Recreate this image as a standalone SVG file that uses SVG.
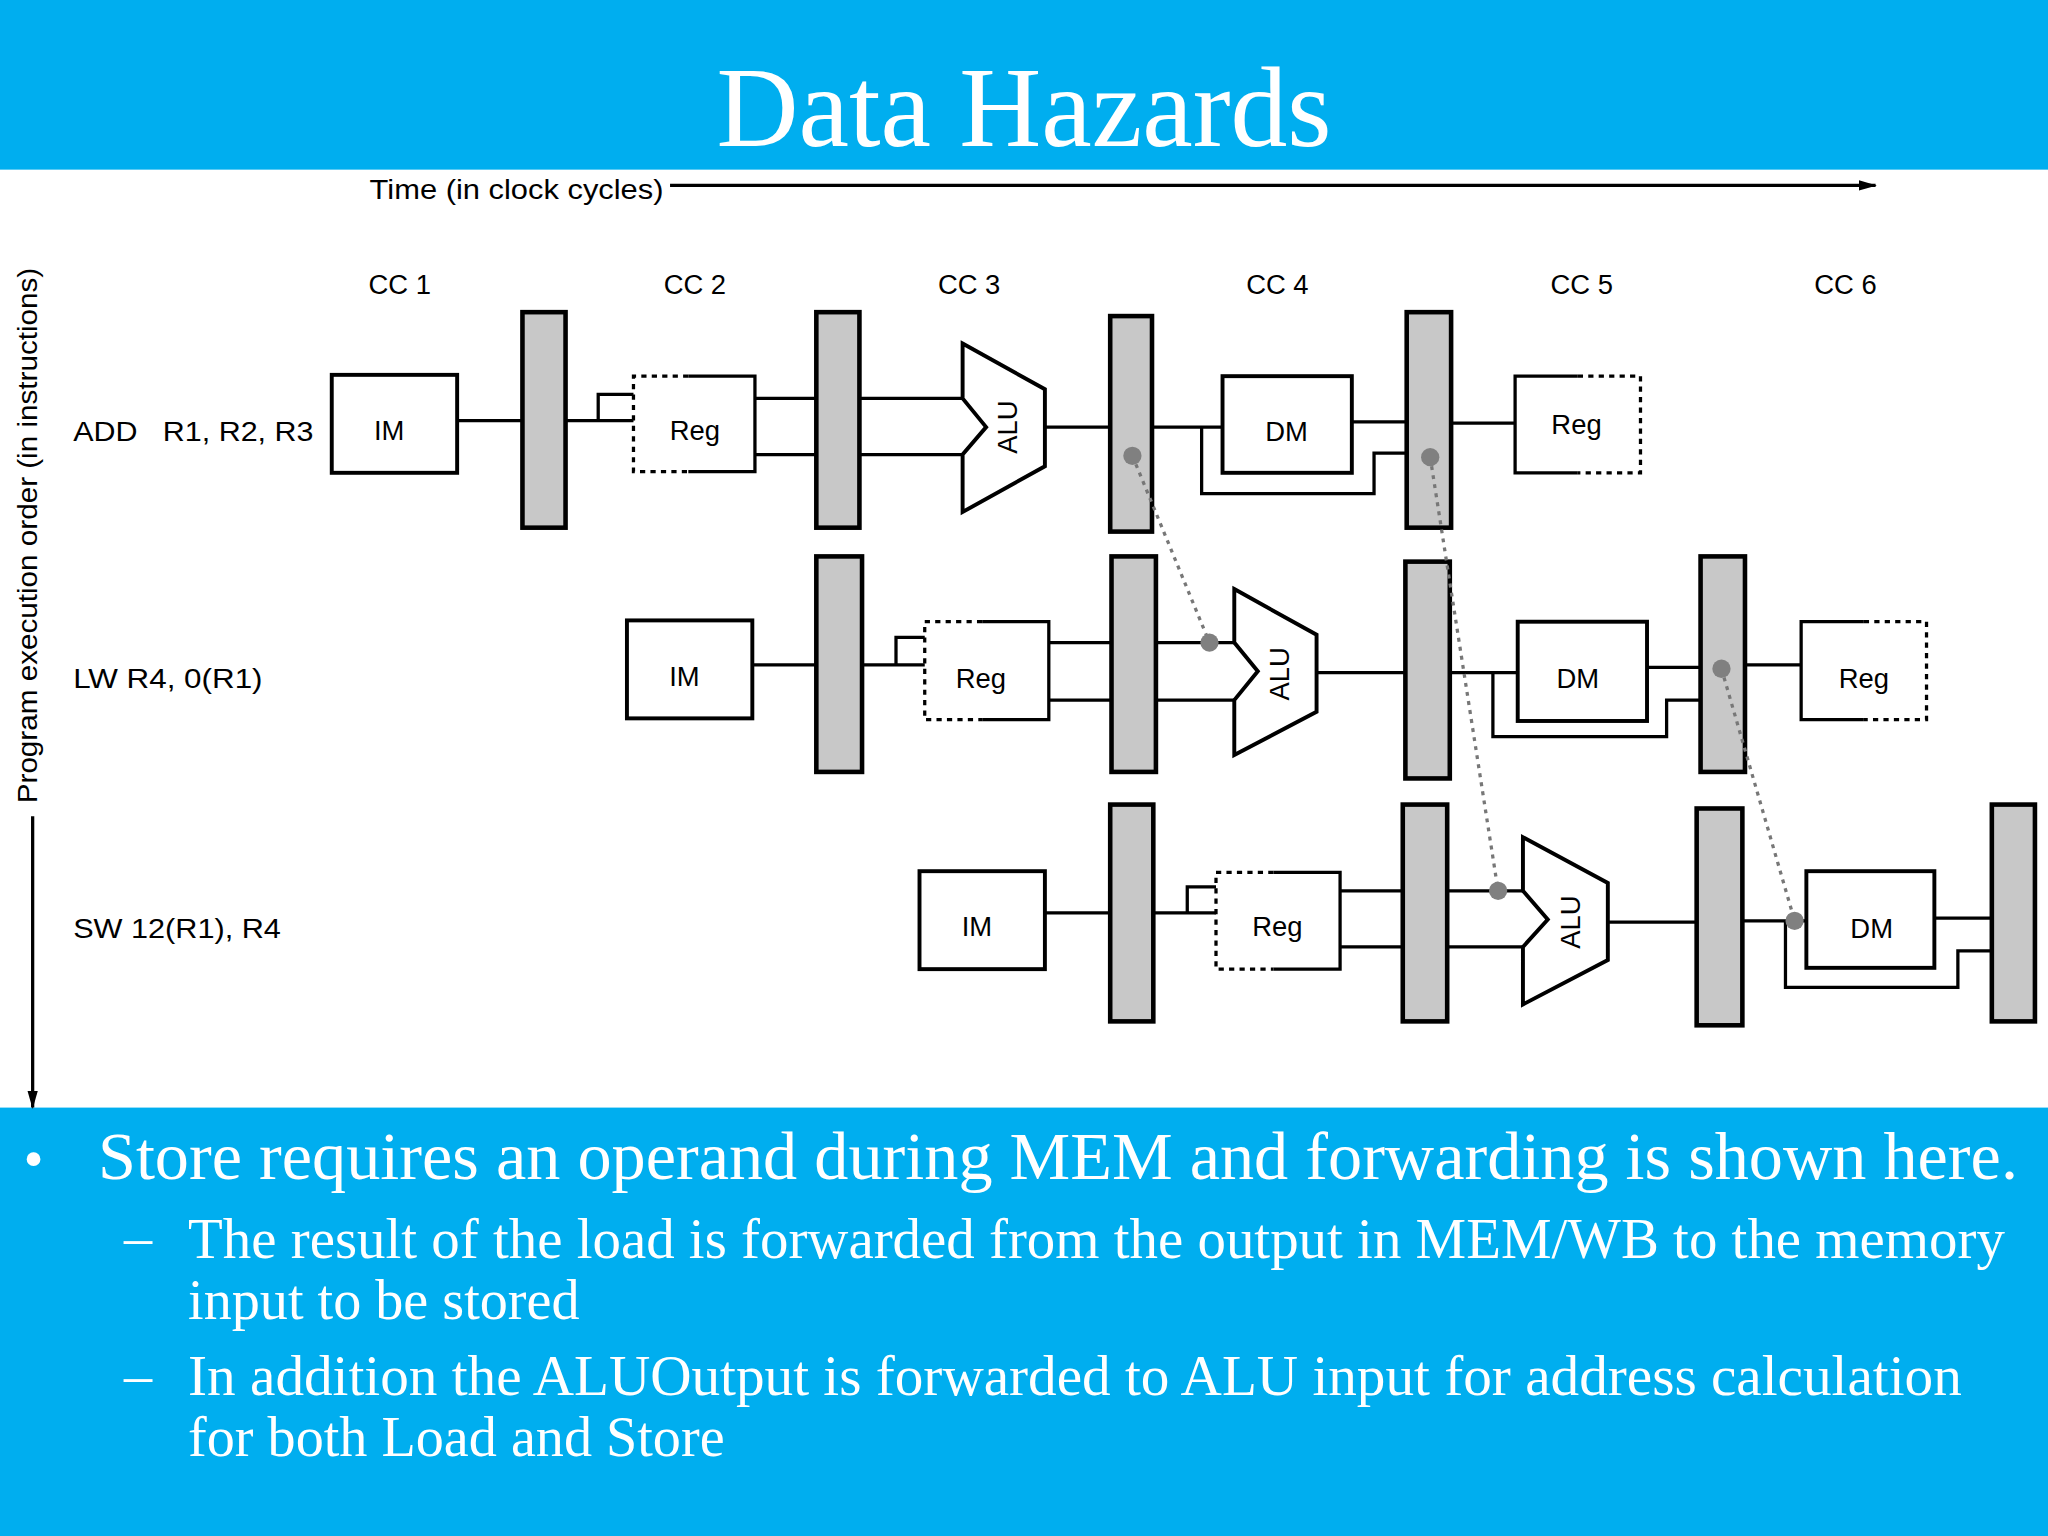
<svg xmlns="http://www.w3.org/2000/svg" width="2048" height="1536" viewBox="0 0 2048 1536">
<defs>
<style>
.w{fill:#fff;stroke:#000;stroke-width:3}
.p{fill:#c8c8c8;stroke:#000;stroke-width:3.5}
.l{fill:none;stroke:#000;stroke-width:2.5}
.d{fill:none;stroke:#000;stroke-width:2.5;stroke-dasharray:4 4}
.t{font-family:"Liberation Sans",Arial,sans-serif;font-size:21px;fill:#000}
.c{text-anchor:middle}
.f{fill:none;stroke:#777;stroke-width:2.5;stroke-dasharray:3 4}
.dot{fill:#808080}
.s{font-family:"Liberation Serif","Times New Roman",serif;fill:#fff}
</style>
<marker id="ah" markerWidth="14" markerHeight="10" refX="13" refY="5" orient="auto" markerUnits="userSpaceOnUse"><path d="M0,1 L14,5 L0,9 Z" fill="#000"/></marker>
<g id="im"><rect class="w" x="0" y="0" width="96" height="75"/><text class="t c" x="44" y="50">IM</text></g>
</defs>
<g transform="scale(1.306122)">
<rect x="0" y="0" width="1568" height="130" fill="#00AEEF"/>
<text class="s" x="784" y="112" font-size="87" text-anchor="middle">Data Hazards</text>
<rect x="0" y="130" width="1568" height="718" fill="#fff"/>
<rect x="0" y="848" width="1568" height="328" fill="#00AEEF"/>

<g id="axes">
<text class="t" x="283" y="152" textLength="225" lengthAdjust="spacingAndGlyphs">Time (in clock cycles)</text>
<line class="l" x1="513" y1="142" x2="1436" y2="142" marker-end="url(#ah)"/>
<text class="t c" transform="translate(28,410) rotate(-90)" textLength="410" lengthAdjust="spacingAndGlyphs">Program execution order (in instructions)</text>
<line class="l" x1="25" y1="625" x2="25" y2="848" marker-end="url(#ah)"/>
<text class="t c" x="306" y="225">CC 1</text>
<text class="t c" x="532" y="225">CC 2</text>
<text class="t c" x="742" y="225">CC 3</text>
<text class="t c" x="978" y="225">CC 4</text>
<text class="t c" x="1211" y="225">CC 5</text>
<text class="t c" x="1413" y="225">CC 6</text>
<text class="t" x="56" y="338" xml:space="preserve" textLength="184" lengthAdjust="spacingAndGlyphs">ADD   R1, R2, R3</text>
<text class="t" x="56" y="527" textLength="145" lengthAdjust="spacingAndGlyphs">LW R4, 0(R1)</text>
<text class="t" x="56" y="718" textLength="159" lengthAdjust="spacingAndGlyphs">SW 12(R1), R4</text>
</g>

<g id="row1">
<use href="#im" x="254" y="287"/>
<line class="l" x1="350" y1="322" x2="400" y2="322"/>
<rect class="p" x="400" y="239" width="33" height="165"/>
<path class="l" d="M433,322 H485 M458,322 V302 H485"/>
<path class="d" d="M527,288 H485 V361 H527"/>
<path class="l" d="M527,288 H578 V361 H527"/>
<text class="t c" x="532" y="337">Reg</text>
<path class="l" d="M578,305 H625 M578,348 H625 M658,305 H737 M658,348 H737"/>
<rect class="p" x="625" y="239" width="33" height="165"/>
<polygon class="w" points="737,263 800,298 800,357 737,392 737,348 755,327 737,305"/>
<text class="t c" transform="translate(779,327) rotate(-90)">ALU</text>
<line class="l" x1="800" y1="327" x2="850" y2="327"/>
<rect class="p" x="850" y="242" width="32" height="165"/>
<path class="l" d="M882,327 H936 M920,327 V378 H1052 V347 H1077 M1035,323 H1077"/>
<rect class="w" x="936" y="288" width="99" height="74"/>
<text class="t c" x="985" y="338">DM</text>
<rect class="p" x="1077" y="239" width="34" height="165"/>
<line class="l" x1="1111" y1="324" x2="1160" y2="324"/>
<path class="l" d="M1208,288 H1160 V362 H1208"/>
<path class="d" d="M1208,288 H1256 V362 H1208"/>
<text class="t c" x="1207" y="332">Reg</text>
</g>

<g id="row2">
<use href="#im" x="480" y="475"/>
<line class="l" x1="577" y1="509" x2="625" y2="509"/>
<rect class="p" x="625" y="426" width="35" height="165"/>
<path class="l" d="M660,509 H708 M686,509 V488 H708"/>
<path class="d" d="M752,476 H708 V551 H752"/>
<path class="l" d="M752,476 H803 V551 H752"/>
<text class="t c" x="751" y="527">Reg</text>
<path class="l" d="M803,492 H851 M803,536 H851 M885,492 H945 M885,536 H945"/>
<rect class="p" x="851" y="426" width="34" height="165"/>
<polygon class="w" points="945,451 1008,486 1008,545 945,578 945,536 963,514 945,492"/>
<text class="t c" transform="translate(987,516) rotate(-90)">ALU</text>
<line class="l" x1="1008" y1="515" x2="1076" y2="515" stroke-width="4"/>
<rect class="p" x="1076" y="430" width="34" height="166"/>
<path class="l" d="M1110,515 H1162 M1143,515 V564 H1276 V536 H1302 M1261,511 H1302"/>
<rect class="w" x="1162" y="476" width="99" height="76"/>
<text class="t c" x="1208" y="527">DM</text>
<rect class="p" x="1302" y="426" width="34" height="165"/>
<line class="l" x1="1336" y1="509" x2="1379" y2="509"/>
<path class="l" d="M1427,476 H1379 V551 H1427"/>
<path class="d" d="M1427,476 H1475 V551 H1427"/>
<text class="t c" x="1427" y="527">Reg</text>
</g>

<g id="row3">
<use href="#im" x="704" y="667"/>
<line class="l" x1="800" y1="699" x2="850" y2="699" stroke-width="4"/>
<rect class="p" x="850" y="616" width="33" height="166"/>
<path class="l" d="M883,699 H931 M909,699 V679 H931"/>
<path class="d" d="M975,668 H931 V742 H975"/>
<path class="l" d="M975,668 H1026 V742 H975"/>
<text class="t c" x="978" y="717">Reg</text>
<path class="l" d="M1026,682 H1074 M1026,725 H1074 M1108,682 H1166 M1108,725 H1166"/>
<rect class="p" x="1074" y="616" width="34" height="166"/>
<polygon class="w" points="1166,641 1231,676 1231,735 1166,769 1166,725 1185,704 1166,682"/>
<text class="t c" transform="translate(1210,706) rotate(-90)">ALU</text>
<line class="l" x1="1231" y1="706" x2="1299" y2="706"/>
<rect class="p" x="1299" y="619" width="35" height="166"/>
<path class="l" d="M1334,705 H1383 M1367,705 V756 H1499 V728 H1525 M1481,703 H1525"/>
<rect class="w" x="1383" y="667" width="98" height="74"/>
<text class="t c" x="1433" y="718">DM</text>
<rect class="p" x="1525" y="616" width="33" height="166"/>
</g>

<g id="connectors">
<line class="f" x1="867" y1="349" x2="926" y2="492"/>
<line class="f" x1="1095" y1="350" x2="1147" y2="682"/>
<line class="f" x1="1318" y1="512" x2="1374" y2="705"/>
<circle class="dot" cx="867" cy="349" r="7"/>
<circle class="dot" cx="1095" cy="350" r="7"/>
<circle class="dot" cx="926" cy="492" r="7"/>
<circle class="dot" cx="1318" cy="512" r="7"/>
<circle class="dot" cx="1147" cy="682" r="7"/>
<circle class="dot" cx="1374" cy="705" r="7"/>
</g>

<g id="notes">
<text class="s" x="18" y="902" font-size="44">•</text>
<text class="s" x="75" y="903" font-size="52" textLength="1470" lengthAdjust="spacingAndGlyphs">Store requires an operand during MEM and forwarding is shown here.</text>
<text class="s" x="95" y="962" font-size="43">–</text>
<text class="s" x="144" y="963" font-size="43" textLength="1391" lengthAdjust="spacingAndGlyphs">The result of the load is forwarded from the output in MEM/WB to the memory</text>
<text class="s" x="144" y="1010" font-size="43">input to be stored</text>
<text class="s" x="95" y="1067" font-size="43">–</text>
<text class="s" x="144" y="1068" font-size="43" textLength="1358" lengthAdjust="spacingAndGlyphs">In addition the ALUOutput is forwarded to ALU input for address calculation</text>
<text class="s" x="144" y="1115" font-size="43">for both Load and Store</text>
</g>
</g>
</svg>
